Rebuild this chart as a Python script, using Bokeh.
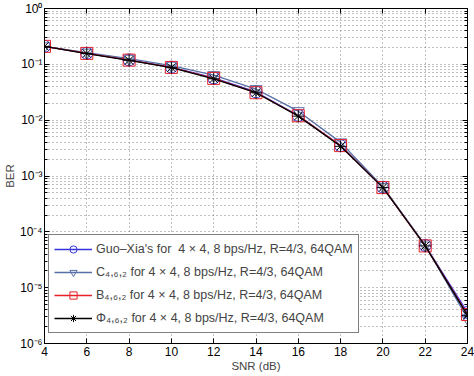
from bokeh.plotting import figure
from bokeh.models import (FixedTicker, LogAxis, LinearAxis, Legend, LegendItem, Range1d)
from bokeh.embed import file_html
from bokeh.resources import INLINE

snr = [4, 6, 8, 10, 12, 14, 16, 18, 20, 22, 24]
ber_guo = [0.21, 0.158, 0.12, 0.089, 0.057, 0.032, 0.0121, 0.0035, 6.3e-4, 5.7e-5, 3.6e-6]
ber_c = [0.21, 0.162, 0.126, 0.095, 0.064, 0.036, 0.0145, 0.0040, 6.4e-4, 5.7e-5, 2.8e-6]
ber_b = [0.21, 0.157, 0.119, 0.088, 0.056, 0.031, 0.0120, 0.0035, 6.2e-4, 5.6e-5, 3.3e-6]
ber_phi = [0.21, 0.156, 0.118, 0.087, 0.055, 0.031, 0.0118, 0.0034, 6.2e-4, 5.6e-5, 3.2e-6]

labels = [
    "Guo\u2013Xia's for  4 \u00d7 4, 8 bps/Hz, R=4/3, 64QAM",
    "C\u2084,\u2086,\u2082 for 4 \u00d7 4, 8 bps/Hz, R=4/3, 64QAM",
    "B\u2084,\u2086,\u2082 for 4 \u00d7 4, 8 bps/Hz, R=4/3, 64QAM",
    "\u03a6\u2084,\u2086,\u2082 for 4 \u00d7 4, 8 bps/Hz, R=4/3, 64QAM",
]
colors = ["#3535e0", "#5870a8", "#e82028", "#000000"]
markers = ["circle", "inverted_triangle", "square", "asterisk"]
series = [ber_guo, ber_c, ber_b, ber_phi]

x_ticks = [4, 6, 8, 10, 12, 14, 16, 18, 20, 22, 24]
y_ticks = [1e-6, 1e-5, 1e-4, 1e-3, 1e-2, 1e-1, 1.0]
y_tick_labels = ["10\u207b\u2076", "10\u207b\u2075", "10\u207b\u2074", "10\u207b\u00b3",
                 "10\u207b\u00b2", "10\u207b\u00b9", "10\u2070"]
y_minor = [m * 10.0 ** e for e in range(-6, 0) for m in range(2, 10)]

FONT = "Liberation Sans"

p = figure(width=474, height=376, y_axis_type="log", output_backend="svg",
           toolbar_location=None, x_range=Range1d(4, 24), y_range=Range1d(1e-6, 1),
           min_border_left=0, min_border_right=7, min_border_top=8, min_border_bottom=33)
p.outline_line_color = "black"
p.background_fill_color = "white"
p.border_fill_color = "white"

items = []
for ys, c, m, lab in zip(series, colors, markers, labels):
    r1 = p.line(snr, ys, line_color=c, line_width=1.3)
    r2 = p.scatter(snr, ys, marker=m, size=12, line_color=c, fill_color=None, line_width=1.0)
    items.append(LegendItem(label=lab, renderers=[r1, r2]))

# axes
for ax in [p.xaxis[0], p.yaxis[0]]:
    ax.major_tick_in = 5
    ax.major_tick_out = 0
    ax.minor_tick_in = 3
    ax.minor_tick_out = 0
    ax.axis_line_color = "black"
    ax.major_label_text_font = FONT
    ax.major_label_text_font_size = "12px"
    ax.major_label_text_color = "black"
    ax.axis_label_text_font = FONT
    ax.axis_label_text_font_size = "11.5px"
    ax.axis_label_text_font_style = "normal"

p.xaxis.ticker = FixedTicker(ticks=x_ticks)
p.yaxis.ticker = FixedTicker(ticks=y_ticks, minor_ticks=y_minor)
p.yaxis.major_label_overrides = dict(zip(y_ticks, y_tick_labels))
p.xaxis.axis_label = "SNR (dB)"
p.yaxis.axis_label = "BER"
p.xaxis.axis_label_standoff = 1
p.yaxis.axis_label_standoff = 1
p.xaxis.major_label_standoff = 3
p.yaxis.major_label_standoff = 2

right = LogAxis(ticker=FixedTicker(ticks=y_ticks, minor_ticks=y_minor),
                major_tick_in=5, major_tick_out=0,
                minor_tick_in=3, minor_tick_out=0, axis_line_color="black")
right.major_label_overrides = {t: "" for t in y_ticks}
above = LinearAxis(ticker=FixedTicker(ticks=x_ticks),
                   major_tick_in=5, major_tick_out=0, minor_tick_in=0, minor_tick_out=0,
                   axis_line_color="black")
above.major_label_overrides = {t: "" for t in x_ticks}
right.major_label_standoff = 0
above.major_label_standoff = 0
p.add_layout(right, "right")
p.add_layout(above, "above")

# grid
p.xgrid.ticker = FixedTicker(ticks=x_ticks)
p.ygrid.ticker = FixedTicker(ticks=y_ticks, minor_ticks=y_minor)
for g in [p.xgrid[0], p.ygrid[0]]:
    g.grid_line_color = "#808080"
    g.grid_line_dash = "1 3"
    g.grid_line_width = 1
p.ygrid.minor_grid_line_color = "#808080"
p.ygrid.minor_grid_line_dash = "1 3"

legend = Legend(items=items, location=(4, 10), orientation="vertical")
legend.label_text_font = FONT
legend.label_text_font_size = "12.5px"
legend.glyph_width = 38
legend.glyph_height = 18
legend.label_height = 18
legend.spacing = 5
legend.padding = 5
legend.margin = 0
legend.label_standoff = 4
legend.border_line_color = "black"
legend.border_line_width = 1
legend.background_fill_color = "white"
legend.background_fill_alpha = 1
p.add_layout(legend)

open("out.html", "w").write(file_html(p, INLINE))
